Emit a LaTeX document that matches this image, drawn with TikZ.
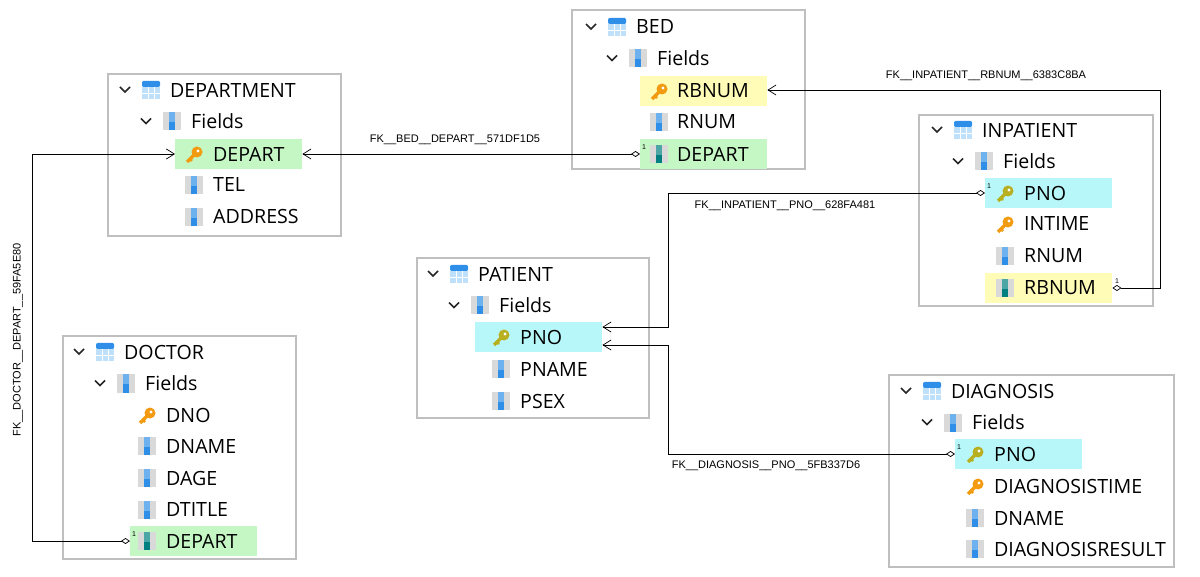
\documentclass[tikz,border=0pt]{standalone}
\usepackage{fontspec}
\setmainfont{Open Sans}
\newfontfamily\lblfont{Liberation Sans}
\usetikzlibrary{arrows.meta}
\definecolor{hlgreen}{HTML}{C4F7C4}
\definecolor{hlyellow}{HTML}{FFFCB8}
\definecolor{hlcyan}{HTML}{B8F7F9}
\definecolor{tblue}{HTML}{2F8FE8}
\definecolor{lblue}{HTML}{BFE0FA}
\definecolor{keyor}{HTML}{F29A10}
\definecolor{keyol}{HTML}{B8B020}
\tikzset{
  box/.style={draw=black!25, line width=1.2pt},
  txt/.style={anchor=west, inner sep=0pt, font=\fontsize{19.6}{22}\selectfont, text=black},
  chev/.style={line width=1.5pt, black!85},
  hl/.style={anchor=west, minimum width=127pt, minimum height=30pt, inner sep=0pt},
  conn/.style={line width=0.7pt, black},
  fk/.style={conn, {Straight Barb[length=8pt,width=10pt]}-{Diamond[open,length=9pt,width=6pt]}},
  lbl/.style={font=\lblfont\fontsize{11}{12}\selectfont, inner sep=1pt},
  one/.style={font=\lblfont\fontsize{7}{7}\selectfont, inner sep=0pt}
}
\newcommand\chevron[2]{\draw[chev] (#1-5,#2-3) -- (#1,#2+2) -- (#1+5,#2-3);}
\newcommand\tabicon[2]{%
  \fill[lblue] (#1-9,#2-9) rectangle (#1+9,#2+9);
  \fill[tblue, rounded corners=1.5pt] (#1-9,#2-9) rectangle (#1+9,#2-3);
  \draw[white, line width=0.5pt] (#1-9,#2+3) -- (#1+9,#2+3) (#1-3,#2-3) -- (#1-3,#2+9) (#1+3,#2-3) -- (#1+3,#2+9);}
\newcommand\colicon[3][tblue]{%
  \fill[black!15] (#2-9,#3-9) rectangle (#2+9,#3+9);
  \fill[#1!70] (#2-3,#3-9) rectangle (#2+3,#3+9);
  \fill[#1] (#2-3,#3+1) rectangle (#2+3,#3+9);}
\newcommand\keyicon[3][keyor]{%
  \draw[#1, line width=3.2pt] (#2-7,#3+8) -- (#2+1,#3);
  \draw[#1, line width=2.6pt] (#2-4,#3+5) -- (#2-2,#3+7);
  \fill[#1] (#2+3,#3-2) circle (5.5pt);
  \fill[white] (#2+4,#3-3) circle (1.6pt);}
\newcommand\thead[4]{%
  \chevron{#1}{#2}\tabicon{#1+26}{#2}\node[txt] (#4) at (#1+45,#2) {#3};
  \chevron{#1+21}{#2+31.5}\colicon[tblue]{#1+47}{#2+31.5}\node[txt] (#4F) at (#1+66,#2+31.5) {Fields};}
\begin{document}
\begin{tikzpicture}[x=1pt,y=-1pt]
\useasboundingbox (0,0) rectangle (1200,577);
\fill[white] (0,0) rectangle (1200,577);
% ---- BED
\draw[box] (572,10) rectangle (805,169);
\thead{591}{27}{BED}{bed}
\node[hl, fill=hlyellow] (bedRBNUM) at (640,91) {};
\node[hl, fill=hlgreen] (bedDEPART) at (640,154) {};
\keyicon{659}{91}\node[txt] at (677,91) {RBNUM};
\colicon{659}{122}\node[txt] (bedRNUM) at (677,122) {RNUM};
\colicon[teal]{659}{154}\node[txt] at (677,154) {DEPART};
% ---- DEPARTMENT
\draw[box] (108,74) rectangle (341,236);
\thead{125}{90}{DEPARTMENT}{dep}
\node[hl, fill=hlgreen] (depDEPART) at (175,154) {};
\keyicon{194}{154}\node[txt] at (213,154) {DEPART};
\colicon{194}{185}\node[txt] (depTEL) at (213,185) {TEL};
\colicon{194}{217}\node[txt] (depADDR) at (213,217) {ADDRESS};
% ---- INPATIENT
\draw[box] (919,115) rectangle (1153,306);
\thead{937}{130}{INPATIENT}{inp}
\node[hl, fill=hlcyan] (inpPNO) at (985,193) {};
\node[hl, fill=hlyellow] (inpRBNUM) at (985,288) {};
\keyicon[keyol]{1005}{193}\node[txt] at (1024,193) {PNO};
\keyicon{1005}{224}\node[txt] (inpINTIME) at (1024,224) {INTIME};
\colicon{1005}{256}\node[txt] (inpRNUM) at (1024,256) {RNUM};
\colicon[teal]{1005}{288}\node[txt] at (1024,288) {RBNUM};
% ---- PATIENT
\draw[box] (417,258) rectangle (649,418);
\thead{433}{274}{PATIENT}{pat}
\node[hl, fill=hlcyan] (patPNO) at (475,337) {};
\keyicon[keyol]{501}{337}\node[txt] at (520,337) {PNO};
\colicon{501}{369}\node[txt] (patPNAME) at (520,369) {PNAME};
\colicon{501}{401}\node[txt] (patPSEX) at (520,401) {PSEX};
% ---- DOCTOR
\draw[box] (63,336) rectangle (296,559);
\thead{79}{352}{DOCTOR}{doc}
\node[hl, fill=hlgreen] (docDEPART) at (130,541) {};
\keyicon{147}{415}\node[txt] (docDNO) at (166,415) {DNO};
\colicon{147}{446}\node[txt] (docDNAME) at (166,446) {DNAME};
\colicon{147}{478}\node[txt] (docDAGE) at (166,478) {DAGE};
\colicon{147}{510}\node[txt] (docDTITLE) at (166,510) {DTITLE};
\colicon[teal]{147}{541}\node[txt] at (166,541) {DEPART};
% ---- DIAGNOSIS
\draw[box] (889,375) rectangle (1174,567);
\thead{906}{391}{DIAGNOSIS}{dia}
\node[hl, fill=hlcyan] (diaPNO) at (955,454) {};
\keyicon[keyol]{975}{454}\node[txt] at (994,454) {PNO};
\keyicon{975}{486}\node[txt] (diaTIME) at (994,486) {DIAGNOSISTIME};
\colicon{975}{518}\node[txt] (diaDNAME) at (994,518) {DNAME};
\colicon{975}{549}\node[txt] (diaRES) at (994,549) {DIAGNOSISRESULT};
% ---- connectors
\coordinate (c1a) at (1160,288); \coordinate (c1b) at (1160,90);
\draw[fk] (bedRBNUM.east |- 0,90) -- (c1b) -- (c1a) -- (inpRBNUM.east);
\node[lbl] (l1) at (986,76) {FK\_\_INPATIENT\_\_RBNUM\_\_6383C8BA};
\node[one] at (1117,281) {1};
\draw[fk] (depDEPART.east) -- (bedDEPART.west);
\node[lbl] (l2) at (455,140) {FK\_\_BED\_\_DEPART\_\_571DF1D5};
\node[one] at (644,147) {1};
\coordinate (c3a) at (668,327); \coordinate (c3b) at (668,193);
\draw[fk] (patPNO.east |- 0,327) -- (c3a) -- (c3b) -- (inpPNO.west);
\node[lbl] (l3) at (785,206) {FK\_\_INPATIENT\_\_PNO\_\_628FA481};
\node[one] at (989,186) {1};
\coordinate (c4a) at (668,345); \coordinate (c4b) at (668,454);
\draw[fk] (patPNO.east |- 0,345) -- (c4a) -- (c4b) -- (diaPNO.west);
\node[lbl] (l4) at (766,466) {FK\_\_DIAGNOSIS\_\_PNO\_\_5FB337D6};
\node[one] at (959,447) {1};
\coordinate (c5a) at (32,154); \coordinate (c5b) at (32,541);
\draw[fk] (depDEPART.west) -- (c5a) -- (c5b) -- (docDEPART.west);
\node[lbl, rotate=90] (l5) at (18,340) {FK\_\_DOCTOR\_\_DEPART\_\_59FA5E80};
\node[one] at (134,534) {1};
\end{tikzpicture}
\end{document}
